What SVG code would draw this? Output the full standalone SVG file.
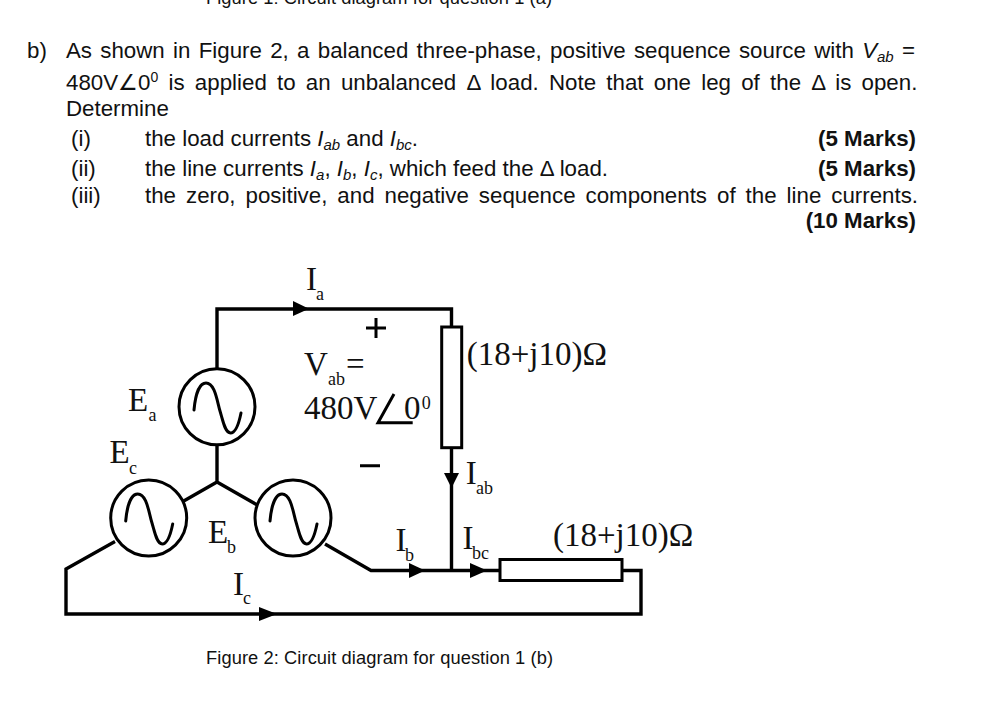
<svg xmlns="http://www.w3.org/2000/svg" width="988" height="703" viewBox="0 0 988 703">
<style>
.t{font-family:"Liberation Sans",Arial,sans-serif;font-size:22.3px;fill:#111}
.b{font-weight:bold;text-anchor:end}
.cap{font-size:18.3px}
.s{font-family:"Liberation Serif","Times New Roman",serif;font-size:33px;fill:#111}
.sub{font-family:"Liberation Serif","Times New Roman",serif;font-size:18px;fill:#111}
.w{fill:none;stroke:#000;stroke-width:3.4;stroke-linejoin:miter}
.c{fill:#fff;stroke:#000;stroke-width:3}
.r{fill:#fff;stroke:#000;stroke-width:3}
.sin{fill:none;stroke:#000;stroke-width:3;stroke-linecap:round}
.a{fill:#000}
</style>
<defs>
<path id="wave" d="M-23 3C-21.5 -14 -17 -24 -11 -24C-2 -24 0 -6 3 4C6 14 8 26 13.5 26C19 26 22 16 24 6"/>
</defs>
<rect width="988" height="703" fill="#fff"/>
<g id="question-text">
<text class="t cap" x="206" y="4" textLength="346">Figure 1: Circuit diagram for question 1 (a)</text>
<text class="t" x="27" y="58">b)</text>
<text class="t" x="66" y="58" word-spacing="2.1">As shown in Figure 2, a balanced three-phase, positive sequence source with <tspan font-style="italic">V</tspan><tspan font-style="italic" font-size="15" dy="4">ab</tspan><tspan dy="-4"> =</tspan></text>
<text class="t" x="66" y="90" word-spacing="4.05">480V∠0<tspan font-size="14" dy="-8">0</tspan><tspan dy="8"> is applied to an unbalanced Δ load. Note that one leg of the Δ is open.</tspan></text>
<text class="t" x="66" y="116">Determine</text>
<text class="t" x="71" y="146">(i)</text>
<text class="t" x="145" y="146">the load currents <tspan font-style="italic">I</tspan><tspan font-style="italic" font-size="15" dy="4">ab</tspan><tspan dy="-4"> and </tspan><tspan font-style="italic">I</tspan><tspan font-style="italic" font-size="15" dy="4">bc</tspan><tspan dy="-4">.</tspan></text>
<text class="t b" x="916" y="146">(5 Marks)</text>
<text class="t" x="71" y="176">(ii)</text>
<text class="t" x="145" y="176">the line currents <tspan font-style="italic">I</tspan><tspan font-style="italic" font-size="15" dy="4">a</tspan><tspan dy="-4">, </tspan><tspan font-style="italic">I</tspan><tspan font-style="italic" font-size="15" dy="4">b</tspan><tspan dy="-4">, </tspan><tspan font-style="italic">I</tspan><tspan font-style="italic" font-size="15" dy="4">c</tspan><tspan dy="-4">, which feed the Δ load.</tspan></text>
<text class="t b" x="916" y="176">(5 Marks)</text>
<text class="t" x="71" y="203">(iii)</text>
<text class="t" x="145" y="203" word-spacing="3.8">the zero, positive, and negative sequence components of the line currents.</text>
<text class="t b" x="916" y="228">(10 Marks)</text>
<text class="t cap" x="206" y="664" textLength="347">Figure 2: Circuit diagram for question 1 (b)</text>
</g>
<g id="connectors">
<path class="w" d="M217 369V309H451.5V327"/>
<path class="w" d="M451.5 448V570.5"/>
<path class="w" d="M217 445V482M217 482L182 502M217 482L259 506"/>
<path class="w" d="M325 544L371 570.5H500"/>
<path class="w" d="M115 541.5L66 569V614H641V570.5H622"/>
<polygon class="a" points="293,301 309,308.7 293,316"/>
<polygon class="a" points="259,607 277,614 259,621"/>
<polygon class="a" points="444,473 459,473 451.5,488"/>
<polygon class="a" points="409,563 425,570.5 409,578"/>
<polygon class="a" points="470,563 487,570.5 470,578"/>
</g>
<g id="source-a"><circle class="c" cx="217" cy="406.7" r="38"/><use href="#wave" class="sin" x="217" y="407"/></g>
<g id="source-c"><circle class="c" cx="148.7" cy="518" r="38"/><use href="#wave" class="sin" x="148.7" y="518"/></g>
<g id="source-b"><circle class="c" cx="293" cy="518" r="38"/><use href="#wave" class="sin" x="293" y="518"/></g>
<g id="load-ab"><rect class="r" x="441.7" y="327" width="20" height="120.7"/></g>
<g id="load-bc"><rect class="r" x="500" y="559.5" width="122" height="21"/></g>
<g id="labels">
<text class="s" x="128" y="411">E</text><text class="sub" x="148.5" y="421">a</text>
<text class="s" x="109.5" y="463">E</text><text class="sub" x="129" y="474">c</text>
<text class="s" x="208" y="543">E</text><text class="sub" x="227" y="553">b</text>
<text class="s" x="306" y="290">I</text><text class="sub" x="316" y="300">a</text>
<text class="s" x="233" y="595">I</text><text class="sub" x="243" y="604">c</text>
<text class="s" x="304" y="375">V</text><text class="sub" x="328" y="385">ab</text><text class="s" x="346" y="375" fill="#333">=</text>
<text class="s" x="304" y="419">480V</text>
<path d="M394 394L378 422.7H412.7" fill="none" stroke="#000" stroke-width="3"/>
<text class="s" x="404" y="419" font-size="30">0</text><text class="sub" x="421.7" y="409">0</text>
<text class="s" x="466.7" y="365">(18+j10)Ω</text>
<text class="s" x="553" y="546">(18+j10)Ω</text>
<text class="s" x="465.7" y="484">I</text><text class="sub" x="476" y="494">ab</text>
<text class="s" x="395.5" y="550.7">I</text><text class="sub" x="405" y="561">b</text>
<text class="s" x="462.5" y="549">I</text><text class="sub" x="472" y="559">bc</text>
<path d="M366 328H386M376 318V338M360 465.7H380" fill="none" stroke="#000" stroke-width="3"/>
</g>
</svg>
